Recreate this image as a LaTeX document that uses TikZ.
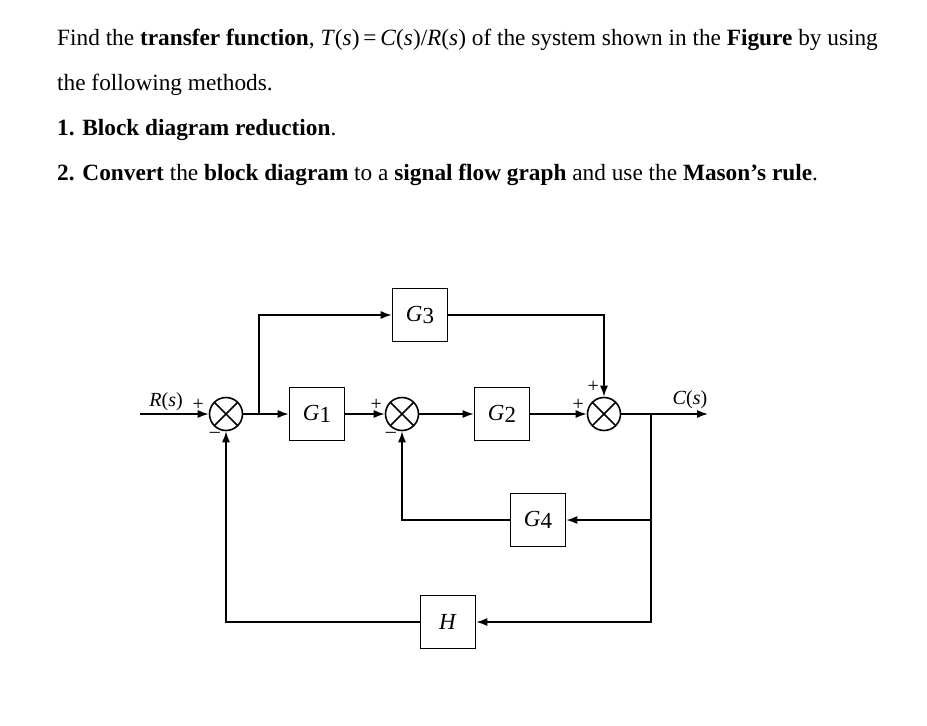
\documentclass[tikz,border=0pt]{standalone}
\usepackage{fontspec}
\setmainfont{Liberation Serif}
\usetikzlibrary{arrows.meta}
\begin{document}
\begin{tikzpicture}[x=1pt,y=-1pt,
  blk/.style={draw,line width=1.6pt,minimum width=55pt,minimum height=53pt,font=\fontsize{23}{25}\selectfont,inner sep=0pt},
  sumj/.style={draw,line width=1.6pt,circle,minimum size=33pt,inner sep=0pt,path picture={\draw[line width=1.5pt] (path picture bounding box.north west)--(path picture bounding box.south east) (path picture bounding box.north east)--(path picture bounding box.south west);}},
  ar/.style={line width=1.5pt,-{Latex[length=11pt,width=8pt]}},
  sg/.style={font=\fontsize{20}{22}\selectfont,inner sep=1pt},
  txt/.style={anchor=base west,inner sep=0pt,font=\fontsize{23.3}{26}\selectfont}]
\useasboundingbox (0,0) rectangle (927,726);
\node[txt] (l1) at (57,45) {Find the \textbf{transfer function}, \textit{T}(\textit{s})\,=\,\textit{C}(\textit{s})/\textit{R}(\textit{s}) of the system shown in the \textbf{Figure} by using};
\node[txt] (l2) at (57,90) {the following methods.};
\node[txt] (l3) at (57,135) {\textbf{1. Block diagram reduction}.};
\node[txt] (l4) at (57,180) {\textbf{2. Convert} the \textbf{block diagram} to a \textbf{signal flow graph} and use the \textbf{Mason’s rule}.};
\node[sumj] (s1) at (226,414) {};
\node[sumj] (s2) at (402,414) {};
\node[sumj] (s3) at (604,414) {};
\node[blk] (g1) at (317,414) {\textit{G}\raisebox{-2pt}{1}};
\node[blk] (g2) at (502,414) {\textit{G}\raisebox{-2pt}{2}};
\node[blk] (g3) at (420,315) {\textit{G}\raisebox{-2pt}{3}};
\node[blk] (g4) at (538,520) {\textit{G}\raisebox{-2pt}{4}};
\node[blk] (h) at (448,622) {\textit{H}};
\coordinate (in) at (140,414);
\coordinate (out) at (708,414);
\coordinate (b1) at (259,414);
\coordinate (b2) at (651,414);
\node[sg,anchor=south east] (rl) at (184,412) {\textit{R}(\textit{s})};
\node[sg,anchor=south east] (p1) at (205,412) {+};
\node[sg,anchor=north east] (m1) at (221,431) {–};
\node[sg,anchor=south east] (p2) at (383,412) {+};
\node[sg,anchor=north east] (m2) at (397,431) {–};
\node[sg,anchor=south east] (p3) at (585,412) {+};
\node[sg,anchor=south east] (p4) at (600,394) {+};
\node[sg,anchor=south] (cl) at (690,410) {\textit{C}(\textit{s})};
\draw[ar] (in) -- (s1);
\draw[ar] (s1) -- (g1);
\draw[ar] (g1) -- (s2);
\draw[ar] (s2) -- (g2);
\draw[ar] (g2) -- (s3);
\draw[ar] (s3) -- (out);
\draw[ar] (b1) |- (g3);
\draw[ar] (g3) -| (s3);
\draw[ar] (b2) |- (g4);
\draw[ar] (g4.west) -| (s2);
\draw[ar] (b2) |- (h);
\draw[ar] (h.west) -| (s1);
\end{tikzpicture}
\end{document}
